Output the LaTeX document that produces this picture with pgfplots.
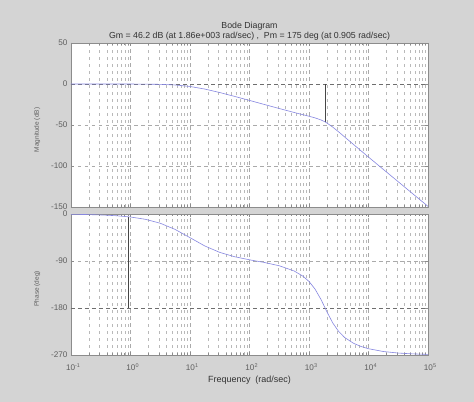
\documentclass[border=0pt]{standalone}
\usepackage{pgfplots}
\usepackage{pgfplotstable}
\pgfplotsset{compat=1.18}
\usepackage{fontspec}
\setmainfont{Liberation Sans}
\definecolor{bg}{RGB}{212,212,212}
\definecolor{txt}{RGB}{95,95,95}
\definecolor{ttl}{RGB}{50,50,50}
\definecolor{frm}{RGB}{140,140,140}
\definecolor{gridc}{RGB}{170,170,170}
\definecolor{gridm}{RGB}{185,185,185}
\definecolor{refl}{RGB}{110,110,110}
\definecolor{mk}{RGB}{70,70,70}
\definecolor{curve}{RGB}{135,135,225}

\pgfplotstableread{
w mag phase
0.1 0.000 -0.58
0.1778 -0.001 -1.02
0.3162 -0.004 -1.82
0.5623 -0.014 -3.23
1 -0.043 -5.74
1.778 -0.135 -10.14
3.162 -0.414 -17.66
5.623 -1.193 -29.54
10 -3.010 -45.34
17.78 -6.193 -61.24
31.62 -10.41 -73.52
56.23 -15.13 -81.83
100 -20.03 -87.68
177.8 -24.98 -92.84
316.2 -29.91 -99.09
562.3 -34.71 -109.08
794.3 -37.49 -119.16
1000 -39.32 -129.18
1259 -41.28 -143.50
1585 -43.79 -163.35
1860 -46.22 -179.69
1995 -47.51 -186.99
2512 -52.60 -208.78
3162 -58.50 -225.13
3981 -64.64 -236.54
5623 -73.88 -247.68
7499 -81.52 -253.71
10000 -89.11 -257.97
17783 -104.18 -263.33
31623 -119.21 -266.27
56234 -134.22 -267.90
100000 -149.22 -268.82
}\bode

\begin{document}
\begin{tikzpicture}
\fill[bg] (0,0) rectangle (474bp,402bp);
\begin{axis}[at={(71bp,195bp)}, anchor=south west, scale only axis, width=357bp, height=164bp,
  xmode=log, xmin=0.1, xmax=1e5,
  axis background/.style={fill=white},
  axis line style={draw=frm, line width=0.5bp},
  tick style={draw=frm, line width=0.5bp},
  major tick length=3bp, minor tick length=2bp,
  tick align=inside,
  xtick={0.1,1,10,100,1000,10000,100000},
  grid=both,
  major grid style={draw=gridc, dash pattern=on 3.5bp off 3.5bp, line width=0.5bp},
  minor grid style={draw=gridm, dash pattern=on 2.5bp off 4.5bp, line width=0.45bp},
  ticklabel style={font=\fontsize{8.2}{9}\selectfont, text=txt},
  ylabel style={at={(axis description cs:-0.095,0.47)}, anchor=center, font=\fontsize{6.5}{7.5}\selectfont, text=txt},
  ymin=-150, ymax=50, ytick={-150,-100,-50,0,50},
  yticklabels={-150,-100,-50,0,50},
  xticklabels={},
  ylabel={Magnitude (dB)},
  title={Bode Diagram\\Gm = 46.2 dB (at 1.86e+003 rad/sec) ,\ \ Pm = 175 deg (at 0.905 rad/sec)},
  title style={align=center, font=\fontsize{8.8}{9.4}\selectfont, text=ttl, at={(axis description cs:0.5,1)}, anchor=south, yshift=-6.5bp},
]
\addplot[draw=refl, dash pattern=on 4bp off 3bp, line width=0.6bp] coordinates {(0.1,0) (100000,0)};
\addplot[draw=mk, line width=0.6bp] coordinates {(1860,0) (1860,-46.22)};
\addplot[draw=curve, line width=0.6bp] table[x=w, y=mag] {\bode};
\end{axis}
\begin{axis}[at={(71bp,47bp)}, anchor=south west, scale only axis, width=357bp, height=141bp,
  xmode=log, xmin=0.1, xmax=1e5,
  axis background/.style={fill=white},
  axis line style={draw=frm, line width=0.5bp},
  tick style={draw=frm, line width=0.5bp},
  major tick length=3bp, minor tick length=2bp,
  tick align=inside,
  xtick={0.1,1,10,100,1000,10000,100000},
  grid=both,
  major grid style={draw=gridc, dash pattern=on 3.5bp off 3.5bp, line width=0.5bp},
  minor grid style={draw=gridm, dash pattern=on 2.5bp off 4.5bp, line width=0.45bp},
  ticklabel style={font=\fontsize{8.2}{9}\selectfont, text=txt},
  ylabel style={at={(axis description cs:-0.095,0.47)}, anchor=center, font=\fontsize{6.5}{7.5}\selectfont, text=txt},
  ymin=-270, ymax=0, ytick={-270,-180,-90,0},
  yticklabels={-270,-180,-90,0},
  xticklabels={10\raisebox{0.7ex}{\fontsize{5.5}{6}\selectfont -1},10\raisebox{0.7ex}{\fontsize{5.5}{6}\selectfont 0},10\raisebox{0.7ex}{\fontsize{5.5}{6}\selectfont 1},10\raisebox{0.7ex}{\fontsize{5.5}{6}\selectfont 2},10\raisebox{0.7ex}{\fontsize{5.5}{6}\selectfont 3},10\raisebox{0.7ex}{\fontsize{5.5}{6}\selectfont 4},10\raisebox{0.7ex}{\fontsize{5.5}{6}\selectfont 5}},
  xticklabel style={xshift=2bp, yshift=-5bp},
  ylabel={Phase (deg)},
  xlabel={Frequency\ \ (rad/sec)},
  xlabel style={at={(axis description cs:0.5,0)}, anchor=center, yshift=-25bp, font=\fontsize{9}{10}\selectfont, text=ttl},
]
\addplot[draw=refl, dash pattern=on 4bp off 3bp, line width=0.6bp] coordinates {(0.1,-180) (100000,-180)};
\addplot[draw=mk, line width=0.6bp] coordinates {(0.905,-5.2) (0.905,-180)};
\addplot[draw=curve, line width=0.6bp] table[x=w, y=phase] {\bode};
\end{axis}
\end{tikzpicture}
\end{document}
